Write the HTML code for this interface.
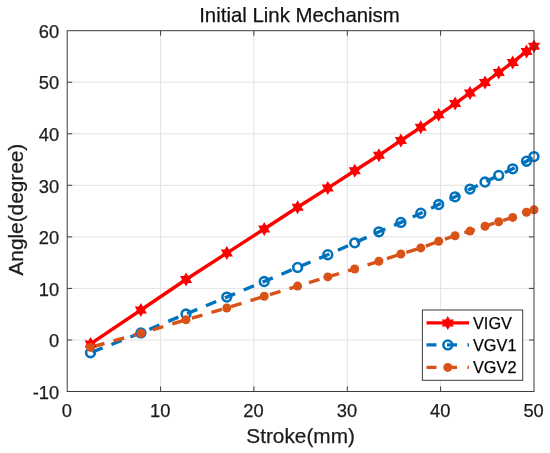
<!DOCTYPE html>
<html><head><meta charset="utf-8"><title>Initial Link Mechanism</title>
<style>
html,body{margin:0;padding:0;background:#fff;}
body{width:550px;height:453px;overflow:hidden;}
svg{display:block;}
text{font-family:"Liberation Sans",Arial,Helvetica,sans-serif;fill:#1c1c1c;stroke:#1c1c1c;stroke-width:0.25px;}
.tk{font-size:18.3px;}
.lb{font-size:20.8px;}
.tt{font-size:20.4px;fill:#111;}
.lg{font-size:16.3px;fill:#000;}
</style></head><body>
<svg width="550" height="453" viewBox="0 0 550 453">
<rect x="0" y="0" width="550" height="453" fill="#fff"/>
<g stroke="#e2e2e2" stroke-width="1" fill="none"><line x1="160.6" y1="30.7" x2="160.6" y2="391.5"/><line x1="253.9" y1="30.7" x2="253.9" y2="391.5"/><line x1="347.3" y1="30.7" x2="347.3" y2="391.5"/><line x1="440.6" y1="30.7" x2="440.6" y2="391.5"/><line x1="67.2" y1="340.0" x2="534.0" y2="340.0"/><line x1="67.2" y1="288.4" x2="534.0" y2="288.4"/><line x1="67.2" y1="236.9" x2="534.0" y2="236.9"/><line x1="67.2" y1="185.3" x2="534.0" y2="185.3"/><line x1="67.2" y1="133.8" x2="534.0" y2="133.8"/><line x1="67.2" y1="82.2" x2="534.0" y2="82.2"/></g>
<g fill="none" stroke-linejoin="round">
<polyline points="90.5,343.9 140.9,310.0 186.0,279.5 226.8,253.1 264.2,229.0 297.6,207.3 327.8,188.1 354.7,170.8 378.9,155.3 400.9,140.5 420.8,127.3 438.7,114.8 455.1,103.6 470.0,92.9 485.0,82.5 498.7,72.5 512.7,62.4 526.5,51.4 534.0,46.2" stroke="#ff0000" stroke-width="3.4"/>
<polyline points="90.5,352.7 140.9,332.9 186.0,314.0 226.8,297.1 264.2,281.5 297.6,267.4 327.8,254.7 354.7,242.8 378.9,231.8 400.9,222.4 420.8,213.2 438.7,204.5 455.1,196.8 470.0,189.1 485.0,182.0 498.7,175.4 512.7,168.8 526.5,161.2 534.0,156.6" stroke="#0072bd" stroke-width="3.4" stroke-dasharray="11 9.45" stroke-dashoffset="-2"/>
<polyline points="90.5,347.4 140.9,333.3 186.0,319.8 226.8,308.0 264.2,296.3 297.6,286.1 327.8,276.9 354.7,269.0 378.9,261.3 400.9,254.0 420.8,247.9 438.7,241.3 455.1,235.7 470.0,231.1 485.0,226.3 498.7,221.7 512.7,217.4 526.5,212.3 534.0,209.8" stroke="#d95319" stroke-width="3.4" stroke-dasharray="11 9.4" stroke-dashoffset="-3.5"/>
</g>
<g fill="#ff0000"><polygon points="90.5,336.9 88.5,340.4 84.5,340.4 86.5,343.9 84.5,347.4 88.5,347.4 90.5,350.9 92.6,347.4 96.6,347.4 94.6,343.9 96.6,340.4 92.6,340.4"/><polygon points="140.9,303.0 138.8,306.5 134.8,306.5 136.8,310.0 134.8,313.5 138.8,313.5 140.9,317.0 142.9,313.5 146.9,313.5 144.9,310.0 146.9,306.5 142.9,306.5"/><polygon points="186.0,272.5 184.0,276.0 180.0,276.0 182.0,279.5 180.0,283.0 184.0,283.0 186.0,286.5 188.1,283.0 192.1,283.0 190.1,279.5 192.1,276.0 188.1,276.0"/><polygon points="226.8,246.1 224.8,249.6 220.8,249.6 222.8,253.1 220.8,256.6 224.8,256.6 226.8,260.1 228.9,256.6 232.9,256.6 230.9,253.1 232.9,249.6 228.9,249.6"/><polygon points="264.2,222.0 262.2,225.5 258.1,225.5 260.1,229.0 258.1,232.5 262.2,232.5 264.2,236.0 266.2,232.5 270.3,232.5 268.2,229.0 270.3,225.5 266.2,225.5"/><polygon points="297.6,200.3 295.6,203.8 291.6,203.8 293.6,207.3 291.6,210.8 295.6,210.8 297.6,214.3 299.6,210.8 303.7,210.8 301.7,207.3 303.7,203.8 299.6,203.8"/><polygon points="327.8,181.1 325.7,184.6 321.7,184.6 323.7,188.1 321.7,191.6 325.7,191.6 327.8,195.1 329.8,191.6 333.8,191.6 331.8,188.1 333.8,184.6 329.8,184.6"/><polygon points="354.7,163.8 352.7,167.3 348.7,167.3 350.7,170.8 348.7,174.3 352.7,174.3 354.7,177.8 356.8,174.3 360.8,174.3 358.8,170.8 360.8,167.3 356.8,167.3"/><polygon points="378.9,148.3 376.9,151.8 372.9,151.8 374.9,155.3 372.9,158.8 376.9,158.8 378.9,162.3 380.9,158.8 385.0,158.8 383.0,155.3 385.0,151.8 380.9,151.8"/><polygon points="400.9,133.5 398.8,137.0 394.8,137.0 396.8,140.5 394.8,144.0 398.8,144.0 400.9,147.5 402.9,144.0 406.9,144.0 404.9,140.5 406.9,137.0 402.9,137.0"/><polygon points="420.8,120.3 418.7,123.8 414.7,123.8 416.7,127.3 414.7,130.8 418.7,130.8 420.8,134.3 422.8,130.8 426.8,130.8 424.8,127.3 426.8,123.8 422.8,123.8"/><polygon points="438.7,107.8 436.7,111.3 432.6,111.3 434.6,114.8 432.6,118.3 436.7,118.3 438.7,121.8 440.7,118.3 444.7,118.3 442.7,114.8 444.7,111.3 440.7,111.3"/><polygon points="455.1,96.6 453.1,100.1 449.0,100.1 451.1,103.6 449.0,107.1 453.1,107.1 455.1,110.6 457.1,107.1 461.2,107.1 459.2,103.6 461.2,100.1 457.1,100.1"/><polygon points="470.0,85.9 467.9,89.4 463.9,89.4 465.9,92.9 463.9,96.4 467.9,96.4 470.0,99.9 472.0,96.4 476.0,96.4 474.0,92.9 476.0,89.4 472.0,89.4"/><polygon points="485.0,75.5 483.0,79.0 478.9,79.0 480.9,82.5 478.9,86.0 483.0,86.0 485.0,89.5 487.0,86.0 491.0,86.0 489.0,82.5 491.0,79.0 487.0,79.0"/><polygon points="498.7,65.5 496.7,69.0 492.6,69.0 494.7,72.5 492.6,76.0 496.7,76.0 498.7,79.5 500.7,76.0 504.8,76.0 502.8,72.5 504.8,69.0 500.7,69.0"/><polygon points="512.7,55.4 510.7,58.9 506.7,58.9 508.7,62.4 506.7,65.9 510.7,65.9 512.7,69.4 514.7,65.9 518.8,65.9 516.8,62.4 518.8,58.9 514.7,58.9"/><polygon points="526.5,44.4 524.5,47.9 520.5,47.9 522.5,51.4 520.5,54.9 524.5,54.9 526.5,58.4 528.6,54.9 532.6,54.9 530.6,51.4 532.6,47.9 528.6,47.9"/><polygon points="534.0,39.2 532.0,42.7 527.9,42.7 530.0,46.2 527.9,49.7 532.0,49.7 534.0,53.2 536.0,49.7 540.1,49.7 538.0,46.2 540.1,42.7 536.0,42.7"/></g>
<g fill="none" stroke="#0072bd" stroke-width="2.55"><circle cx="90.5" cy="352.7" r="4.4"/><circle cx="140.9" cy="332.9" r="4.4"/><circle cx="186.0" cy="314.0" r="4.4"/><circle cx="226.8" cy="297.1" r="4.4"/><circle cx="264.2" cy="281.5" r="4.4"/><circle cx="297.6" cy="267.4" r="4.4"/><circle cx="327.8" cy="254.7" r="4.4"/><circle cx="354.7" cy="242.8" r="4.4"/><circle cx="378.9" cy="231.8" r="4.4"/><circle cx="400.9" cy="222.4" r="4.4"/><circle cx="420.8" cy="213.2" r="4.4"/><circle cx="438.7" cy="204.5" r="4.4"/><circle cx="455.1" cy="196.8" r="4.4"/><circle cx="470.0" cy="189.1" r="4.4"/><circle cx="485.0" cy="182.0" r="4.4"/><circle cx="498.7" cy="175.4" r="4.4"/><circle cx="512.7" cy="168.8" r="4.4"/><circle cx="526.5" cy="161.2" r="4.4"/><circle cx="534.0" cy="156.6" r="4.4"/></g>
<g fill="#d95319"><circle cx="90.5" cy="347.4" r="4.5"/><circle cx="140.9" cy="333.3" r="4.5"/><circle cx="186.0" cy="319.8" r="4.5"/><circle cx="226.8" cy="308.0" r="4.5"/><circle cx="264.2" cy="296.3" r="4.5"/><circle cx="297.6" cy="286.1" r="4.5"/><circle cx="327.8" cy="276.9" r="4.5"/><circle cx="354.7" cy="269.0" r="4.5"/><circle cx="378.9" cy="261.3" r="4.5"/><circle cx="400.9" cy="254.0" r="4.5"/><circle cx="420.8" cy="247.9" r="4.5"/><circle cx="438.7" cy="241.3" r="4.5"/><circle cx="455.1" cy="235.7" r="4.5"/><circle cx="470.0" cy="231.1" r="4.5"/><circle cx="485.0" cy="226.3" r="4.5"/><circle cx="498.7" cy="221.7" r="4.5"/><circle cx="512.7" cy="217.4" r="4.5"/><circle cx="526.5" cy="212.3" r="4.5"/><circle cx="534.0" cy="209.8" r="4.5"/></g>
<g stroke="#3c3c3c" stroke-width="1" fill="none"><rect x="67.2" y="30.7" width="466.8" height="360.8"/><line x1="160.6" y1="391.5" x2="160.6" y2="386.5"/><line x1="160.6" y1="30.7" x2="160.6" y2="35.7"/><line x1="253.9" y1="391.5" x2="253.9" y2="386.5"/><line x1="253.9" y1="30.7" x2="253.9" y2="35.7"/><line x1="347.3" y1="391.5" x2="347.3" y2="386.5"/><line x1="347.3" y1="30.7" x2="347.3" y2="35.7"/><line x1="440.6" y1="391.5" x2="440.6" y2="386.5"/><line x1="440.6" y1="30.7" x2="440.6" y2="35.7"/><line x1="67.2" y1="340.0" x2="72.2" y2="340.0"/><line x1="534.0" y1="340.0" x2="529.0" y2="340.0"/><line x1="67.2" y1="288.4" x2="72.2" y2="288.4"/><line x1="534.0" y1="288.4" x2="529.0" y2="288.4"/><line x1="67.2" y1="236.9" x2="72.2" y2="236.9"/><line x1="534.0" y1="236.9" x2="529.0" y2="236.9"/><line x1="67.2" y1="185.3" x2="72.2" y2="185.3"/><line x1="534.0" y1="185.3" x2="529.0" y2="185.3"/><line x1="67.2" y1="133.8" x2="72.2" y2="133.8"/><line x1="534.0" y1="133.8" x2="529.0" y2="133.8"/><line x1="67.2" y1="82.2" x2="72.2" y2="82.2"/><line x1="534.0" y1="82.2" x2="529.0" y2="82.2"/></g>
<text class="tk" x="66.8" y="417.1" text-anchor="middle">0</text>
<text class="tk" x="160.2" y="417.1" text-anchor="middle">10</text>
<text class="tk" x="253.5" y="417.1" text-anchor="middle">20</text>
<text class="tk" x="346.9" y="417.1" text-anchor="middle">30</text>
<text class="tk" x="440.2" y="417.1" text-anchor="middle">40</text>
<text class="tk" x="533.6" y="417.1" text-anchor="middle">50</text>
<text class="tk" x="59.2" y="398.7" text-anchor="end">-10</text>
<text class="tk" x="59.2" y="347.2" text-anchor="end">0</text>
<text class="tk" x="59.2" y="295.6" text-anchor="end">10</text>
<text class="tk" x="59.2" y="244.1" text-anchor="end">20</text>
<text class="tk" x="59.2" y="192.5" text-anchor="end">30</text>
<text class="tk" x="59.2" y="141.0" text-anchor="end">40</text>
<text class="tk" x="59.2" y="89.4" text-anchor="end">50</text>
<text class="tk" x="59.2" y="37.9" text-anchor="end">60</text>
<text class="lb" x="300.6" y="443.3" text-anchor="middle">Stroke(mm)</text>
<text class="tt" x="299.5" y="21.6" text-anchor="middle">Initial Link Mechanism</text>
<text class="lb" transform="translate(22.6,209.6) rotate(-90)" text-anchor="middle">Angle(degree)</text>
<rect x="422.4" y="310" width="100.3" height="70.3" fill="#fff" stroke="#3c3c3c" stroke-width="1"/>
<line x1="426.5" y1="322.9" x2="469" y2="322.9" stroke="#ff0000" stroke-width="3.4"/>
<g fill="#ff0000"><polygon points="447.8,315.9 445.8,319.4 441.7,319.4 443.8,322.9 441.7,326.4 445.8,326.4 447.8,329.9 449.8,326.4 453.9,326.4 451.8,322.9 453.9,319.4 449.8,319.4"/></g>
<line x1="426.5" y1="344.9" x2="469" y2="344.9" stroke="#0072bd" stroke-width="3.4" stroke-dasharray="10 10.5"/>
<circle cx="447.8" cy="344.9" r="4.4" fill="none" stroke="#0072bd" stroke-width="2.55"/>
<line x1="426.5" y1="367.4" x2="469" y2="367.4" stroke="#d95319" stroke-width="3.4" stroke-dasharray="10 10.5"/>
<circle cx="447.8" cy="367.4" r="4.5" fill="#d95319"/>
<text class="lg" x="473" y="328.9">VIGV</text>
<text class="lg" x="473" y="350.9">VGV1</text>
<text class="lg" x="473" y="373.4">VGV2</text>
</svg></body></html>
